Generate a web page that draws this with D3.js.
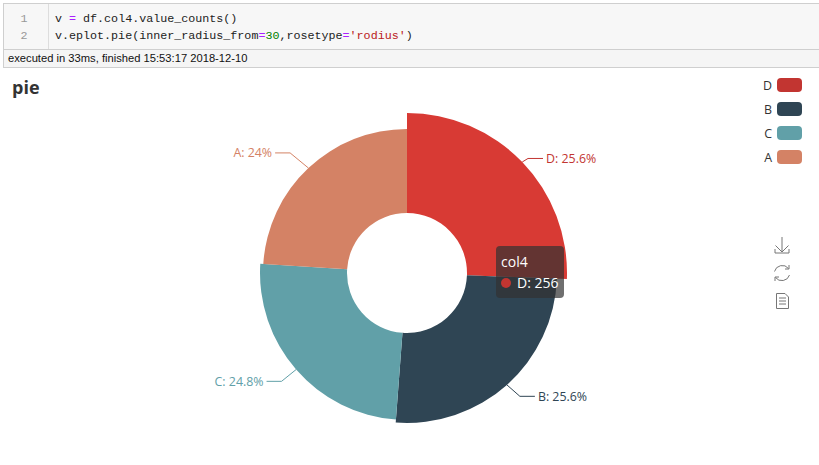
<!DOCTYPE html>
<html>
<head>
<meta charset="utf-8">
<script src="https://cdn.jsdelivr.net/npm/d3@7"></script>
<style>
html, body { margin: 0; padding: 0; background: #fff; overflow: hidden; }
svg { display: block; }
text { font-family: "Open Sans", "Noto Sans", sans-serif; }
.code text { font-family: "Liberation Mono", monospace; font-size: 11.7px; }
</style>
</head>
<body>
<div id="chart"></div>
<script>
const width = 819;
const height = 465;

const categories = ["D", "B", "C", "A"];
const values = [256, 256, 248, 240];
const colors = ["#c23531", "#2f4554", "#61a0a8", "#d48265"];
const seriesName = "col4";
const chartTitle = "pie";
const hovered = "D";

const center = { x: 407, y: 273 };
const hoverColor = "#d83a34";
const hoverGrow = 10;
// the chart library shifted the leader knees a little, per slice
const kneeNudge = { D: [0, 2], B: [1, -2], C: [-1, 0], A: [-6, -2] };

const svg = d3.select("#chart")
  .append("svg")
  .attr("width", width)
  .attr("height", height)
  .attr("viewBox", `0 0 ${width} ${height}`);

// notebook cell above the chart
svg.append("rect").attr("x", 3.5).attr("y", 3.5).attr("width", 816).attr("height", 46)
  .attr("fill", "#f7f7f7").attr("stroke", "#cfcfcf");
svg.append("line").attr("x1", 48.5).attr("x2", 48.5).attr("y1", 4).attr("y2", 49)
  .attr("stroke", "#ddd");
svg.append("rect").attr("x", 3.5).attr("y", 49.5).attr("width", 816).attr("height", 18)
  .attr("fill", "#f5f5f5").attr("stroke", "#cfcfcf");

const codeLines = [
  [["v ", "#222"], ["=", "#aa22ff"], [" df.col4.value_counts()", "#222"]],
  [["v.eplot.pie(inner_radius_from", "#222"], ["=", "#aa22ff"], ["30", "#008000"],
   [",rosetype", "#222"], ["=", "#aa22ff"], ["'rodius'", "#ba2121"], [")", "#222"]]
];
const code = svg.append("g").attr("class", "code");
codeLines.forEach((parts, i) => {
  const lineY = 21.5 + i * 17;
  code.append("text").attr("x", 24).attr("y", lineY).attr("text-anchor", "middle")
    .attr("fill", "#999").text(i + 1);
  const row = code.append("text").attr("x", 55).attr("y", lineY);
  row.selectAll("tspan").data(parts).join("tspan")
    .attr("fill", d => d[1])
    .style("white-space", "pre")
    .text(d => d[0]);
});
svg.append("text").attr("x", 8).attr("y", 62)
  .style("font-family", "'Liberation Sans', sans-serif").style("font-size", "11.2px")
  .attr("fill", "#111").text("executed in 33ms, finished 15:53:17 2018-12-10");

svg.append("text").attr("x", 12).attr("y", 94)
  .style("font-size", "18px").style("font-weight", "bold")
  .attr("fill", "#333").text(chartTitle);

// rose pie: angle from the value share, radius from the value
const total = d3.sum(values);
const radius = d3.scaleLinear()
  .domain([d3.min(values), d3.max(values)])
  .range([144, 150]);
const pie = d3.pie().sort(null).value(d => d.value);
const slices = pie(categories.map((name, i) => ({ name, value: values[i], color: colors[i] })));
const arc = d3.arc();
const plot = svg.append("g").attr("transform", `translate(${center.x},${center.y})`);

const outer = d => radius(d.data.value) + (d.data.name === hovered ? hoverGrow : 0);

plot.selectAll("path.slice").data(slices).join("path")
  .attr("class", "slice")
  .attr("fill", d => d.data.name === hovered ? hoverColor : d.data.color)
  .attr("d", d => arc({ innerRadius: 60, outerRadius: outer(d), startAngle: d.startAngle, endAngle: d.endAngle }));

// leader lines and labels
const polar = (angle, r) => [Math.sin(angle) * r, -Math.cos(angle) * r];
slices.forEach(d => {
  const mid = (d.startAngle + d.endAngle) / 2;
  const side = mid < Math.PI ? 1 : -1;
  const start = polar(mid, outer(d));
  const base = polar(mid, radius(d.data.value) + 18);
  const nudge = kneeNudge[d.data.name];
  const knee = [base[0] + nudge[0], base[1] + nudge[1]];
  const end = [knee[0] + side * 15, knee[1]];
  plot.append("path")
    .attr("fill", "none").attr("stroke", d.data.color)
    .attr("d", d3.line()([start, knee, end]));
  plot.append("text")
    .attr("x", end[0] + side * 3).attr("y", end[1] + 4.5)
    .attr("text-anchor", side > 0 ? "start" : "end")
    .attr("fill", d.data.color)
    .style("font-size", "12.4px")
    .text(`${d.data.name}: ${+(d.data.value / total * 100).toFixed(1)}%`);
});

// legend
const legend = svg.append("g").attr("transform", "translate(777,78)");
const legendRow = legend.selectAll("g").data(categories).join("g")
  .attr("transform", (d, i) => `translate(0,${i * 24})`);
legendRow.append("rect").attr("width", 25).attr("height", 14).attr("rx", 4)
  .attr("fill", (d, i) => colors[i]);
legendRow.append("text").attr("x", -5).attr("y", 12).attr("text-anchor", "end")
  .style("font-size", "12.4px").attr("fill", "#333").text(d => d);

// toolbox icons
const icons = svg.append("g").attr("fill", "none").attr("stroke", "#777").attr("stroke-width", 1);
icons.append("path").attr("d", "M782 237V252M775.5 245.5L782 252L788.5 245.5M775 249V253H789V249");
icons.append("path").attr("d", "M774.5 271.5A8 8 0 0 1 788.5 268.5M789.5 275A8 8 0 0 1 775.5 277.5M789 265V269H785M775 281V277H779");
icons.append("path").attr("d", "M776.5 293.5H785L788.5 297V308.5H776.5ZM779 298H786M779 301H786M779 304H786");

// tooltip of the hovered slice
const tip = svg.append("g").attr("transform", "translate(496,246)");
tip.append("rect").attr("width", 68).attr("height", 52).attr("rx", 4)
  .attr("fill", "rgba(50,50,50,0.7)");
tip.append("text").attr("x", 5).attr("y", 21).attr("fill", "#fff")
  .style("font-size", "14px").text(seriesName);
tip.append("circle").attr("cx", 10).attr("cy", 37).attr("r", 5)
  .attr("fill", colors[categories.indexOf(hovered)]);
tip.append("text").attr("x", 21).attr("y", 42).attr("fill", "#fff")
  .style("font-size", "14px")
  .text(`${hovered}: ${values[categories.indexOf(hovered)]}`);
</script>
</body>
</html>
